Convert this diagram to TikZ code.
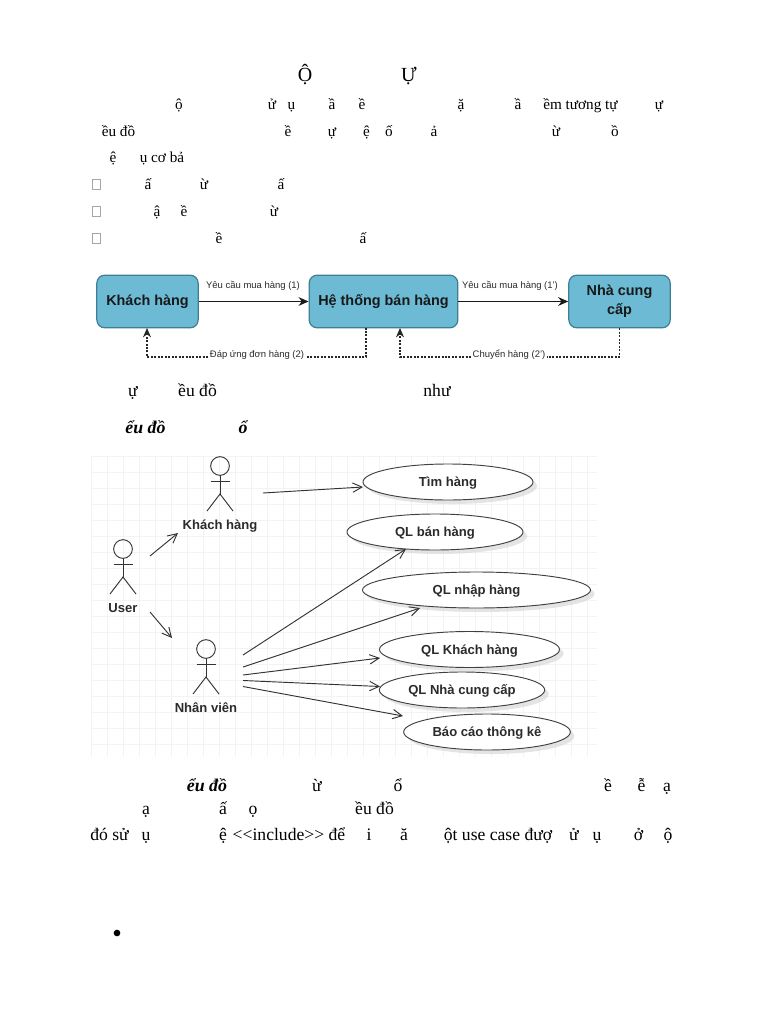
\documentclass[tikz,border=0pt]{standalone}
\usepackage{fontspec}
\setmainfont{Liberation Serif}
\setsansfont{Liberation Sans}
\usetikzlibrary{arrows.meta,shapes.geometric,shadows}
\definecolor{boxfill}{HTML}{6CBAD3}
\definecolor{boxline}{HTML}{3F7F95}
\definecolor{inkgrey}{HTML}{2B2B2B}
\definecolor{gridgrey}{HTML}{F3F3F3}
\newcounter{fragc}
\newcommand{\frag}[3]{\stepcounter{fragc}\node[bodytxt,name=f\thefragc] at (#1,#2) {#3};}
\newcommand{\fragb}[3]{\stepcounter{fragc}\node[bodytxt,font=\fontsize{13.2}{15}\selectfont,name=f\thefragc] at (#1,#2) {#3};}
\newcommand{\ital}[3]{\stepcounter{fragc}\node[bodytxt,font=\fontsize{13.4}{15}\selectfont\bfseries\itshape,name=f\thefragc] at (#1,#2) {#3};}
\tikzset{
  bodytxt/.style={inner sep=0pt,anchor=base,text=black,font=\fontsize{11.4}{13}\selectfont},
  titletxt/.style={inner sep=0pt,anchor=base,text=black,font=\fontsize{15}{17}\selectfont},
  flowbox/.style={draw=boxline,line width=0.9pt,fill=boxfill,rounded corners=6pt,align=center,inner sep=0pt,
     font=\sffamily\bfseries\fontsize{10.8}{14}\selectfont,text=black!90},
  flowlabel/.style={inner sep=1pt,font=\sffamily\fontsize{7.1}{8}\selectfont,text=inkgrey},
  solidflow/.style={draw=black!90,line width=1.2pt,-{Stealth[length=7.5pt,width=6.5pt]}},
  dotflow/.style={draw=black!85,line width=1pt,dash pattern=on 1.5pt off 1.1pt,-{Stealth[length=7pt,width=6pt]}},
  usecase/.style={ellipse,draw=black!75,fill=white,line width=0.7pt,inner sep=0pt,text height=9pt,text depth=2pt,
     font=\sffamily\bfseries\fontsize{9.8}{12}\selectfont,text=inkgrey,
     drop shadow={shadow xshift=3pt,shadow yshift=-3pt,fill=black!15,opacity=.7}},
  actorlabel/.style={inner sep=0pt,text height=9pt,text depth=2pt,font=\sffamily\bfseries\fontsize{9.8}{12}\selectfont,text=inkgrey},
  assoc/.style={draw=black!80,line width=0.7pt,-{Straight Barb[length=7pt,width=7pt]}},
  stick/.style={draw=black!80,line width=0.7pt},
  emptybox/.style={draw=black!35,line width=0.5pt,fill=white},
}
\newcommand{\stickman}[2]{
  \draw[stick] (#1,#2) circle[radius=7pt];
  \draw[stick] (#1,#2+9) -- (#1,#2+28);
  \draw[stick] (#1-9.5,#2+15.5) -- (#1+9.5,#2+15.5);
  \draw[stick] (#1-13,#2+45) -- (#1,#2+28) -- (#1+13,#2+45);
}
\begin{document}
\begin{tikzpicture}[x=0.75pt,y=-0.75pt]
\useasboundingbox[fill=white] (0,0) rectangle (768,1024);

% top text
\node[titletxt,name=t1] at (305,81) {Ộ};
\node[titletxt,name=t2] at (409,81) {Ự};
\frag{179}{109}{ộ}\frag{272}{109}{ử}\frag{291.5}{109}{ụ}\frag{332}{109}{ầ}\frag{362}{109}{ề}
\frag{461}{109}{ặ}\frag{518}{109}{ầ}\frag{580.5}{109}{ềm tương tự}\frag{659}{109}{ự}
\frag{118.5}{136}{ều đồ}\frag{288}{136}{ề}\frag{332}{136}{ự}\frag{366.5}{136}{ệ}\frag{389}{136}{ố}
\frag{434}{136}{ả}\frag{556}{136}{ừ}\frag{615}{136}{ồ}
\frag{113}{162}{ệ}\frag{162}{162}{ụ cơ bả}
\draw[emptybox] (92.5,179) rectangle (100.5,189);
\frag{148}{189}{ấ}\frag{204}{189}{ừ}\frag{281}{189}{ấ}
\draw[emptybox] (92.5,206) rectangle (100.5,216);
\frag{157}{216}{ậ}\frag{184}{216}{ề}\frag{274}{216}{ừ}
\draw[emptybox] (92.5,233) rectangle (100.5,243);
\frag{219}{243}{ề}\frag{363}{243}{ấ}

% flow diagram
\node[flowbox,minimum width=76pt,minimum height=39.5pt,name=kh] at (147.5,301.5) {Khách hàng};
\node[flowbox,minimum width=111.5pt,minimum height=39.5pt,name=ht] at (383.5,301.5) {Hệ thống bán hàng};
\node[flowbox,minimum width=76pt,minimum height=39.5pt,name=ncc] at (619.5,301.5) {Nhà cung\\cấp};
\draw[solidflow] (kh.east) -- (ht.west);
\draw[solidflow] (ht.east) -- (ncc.west);
\node[flowlabel,name=l1] at (253,286) {Yêu cầu mua hàng (1)};
\node[flowlabel,name=l2] at (510,286) {Yêu cầu mua hàng (1')};
\coordinate (d1s) at (366,327.5);
\coordinate (d1e) at (147,328);
\coordinate (d2e) at (400,328);
\draw[dotflow] (d1s) |- (257,357) -| (d1e);
\draw[dotflow] (ncc.south) |- (509,357) -| (d2e);
\node[flowlabel,fill=white,name=l3] at (257,354.5) {Đáp ứng đơn hàng (2)};
\node[flowlabel,fill=white,name=l4] at (509,354.5) {Chuyển hàng (2')};

\fragb{133}{396}{ự}\fragb{197.5}{396}{ều đồ}\fragb{437}{396}{như}
\ital{145.5}{433}{ểu đồ}\ital{243}{433}{ổ}

% use-case panel
\foreach \gx in {91,107,...,597} {\draw[gridgrey,line width=0.4pt] (\gx,456) -- (\gx,757);}
\foreach \gy in {456,472,...,757} {\draw[gridgrey,line width=0.4pt] (91,\gy) -- (597,\gy);}
\stickman{220}{466}
\stickman{123}{549}
\stickman{206}{649}
\node[actorlabel,name=akh] at (220,525) {Khách hàng};
\node[actorlabel,name=auser] at (123,608) {User};
\node[actorlabel,name=anv] at (206,708) {Nhân viên};

\node[usecase,minimum width=127.5pt,minimum height=27pt,name=u1] at (448,482) {Tìm hàng};
\node[usecase,minimum width=132pt,minimum height=27pt,name=u2] at (435,532) {QL bán hàng};
\node[usecase,minimum width=171pt,minimum height=27pt,name=u3] at (476.5,590) {QL nhập hàng};
\node[usecase,minimum width=135pt,minimum height=27pt,name=u4] at (469.5,649.5) {QL Khách hàng};
\node[usecase,minimum width=124pt,minimum height=27pt,name=u5] at (462,690) {QL Nhà cung cấp};
\node[usecase,minimum width=125pt,minimum height=27pt,name=u6] at (487,732) {Báo cáo thông kê};

\coordinate (us1) at (150,556);
\coordinate (us2) at (150,612);
\coordinate (kh1) at (178,533);
\coordinate (nv0) at (172,638);
\coordinate (ks) at (263,493);
\coordinate (ke) at (363,487);
\coordinate (n1) at (243,655);
\coordinate (n2) at (243,667);
\coordinate (n3) at (243,675);
\coordinate (n4) at (243,680.5);
\coordinate (n5) at (243,686.5);
\coordinate (e2) at (406,549);
\coordinate (e3) at (420,608);
\coordinate (e4) at (380,658);
\coordinate (e5) at (380,686.5);
\coordinate (e6) at (403,716);
\draw[assoc] (us1) -- (kh1);
\draw[assoc] (us2) -- (nv0);
\draw[assoc] (ks) -- (ke);
\draw[assoc] (n1) -- (e2);
\draw[assoc] (n2) -- (e3);
\draw[assoc] (n3) -- (e4);
\draw[assoc] (n4) -- (e5);
\draw[assoc] (n5) -- (e6);

% bottom text
\ital{207}{791}{ểu đồ}\fragb{317}{791}{ừ}\fragb{398}{791}{ổ}\fragb{608}{791}{ề}\fragb{641.5}{791}{ễ}\fragb{667}{791}{ạ}
\fragb{146}{814}{ạ}\fragb{223}{814}{ấ}\fragb{253}{814}{ọ}\fragb{374.5}{814}{ều đồ}
\fragb{109.5}{840}{đó sử}\fragb{146}{840}{ụ}\fragb{223}{840}{ệ}\fragb{289}{840}{<{}<include>{}> để}
\fragb{369}{840}{i}\fragb{404}{840}{ă}\fragb{498}{840}{ột use case đượ}\fragb{574}{840}{ử}\fragb{597}{840}{ụ}\fragb{638.5}{840}{ở}\fragb{668}{840}{ộ}
\node[circle,fill=black,inner sep=0pt,minimum size=5pt,name=bullet] at (117,933) {};
\end{tikzpicture}
\end{document}
